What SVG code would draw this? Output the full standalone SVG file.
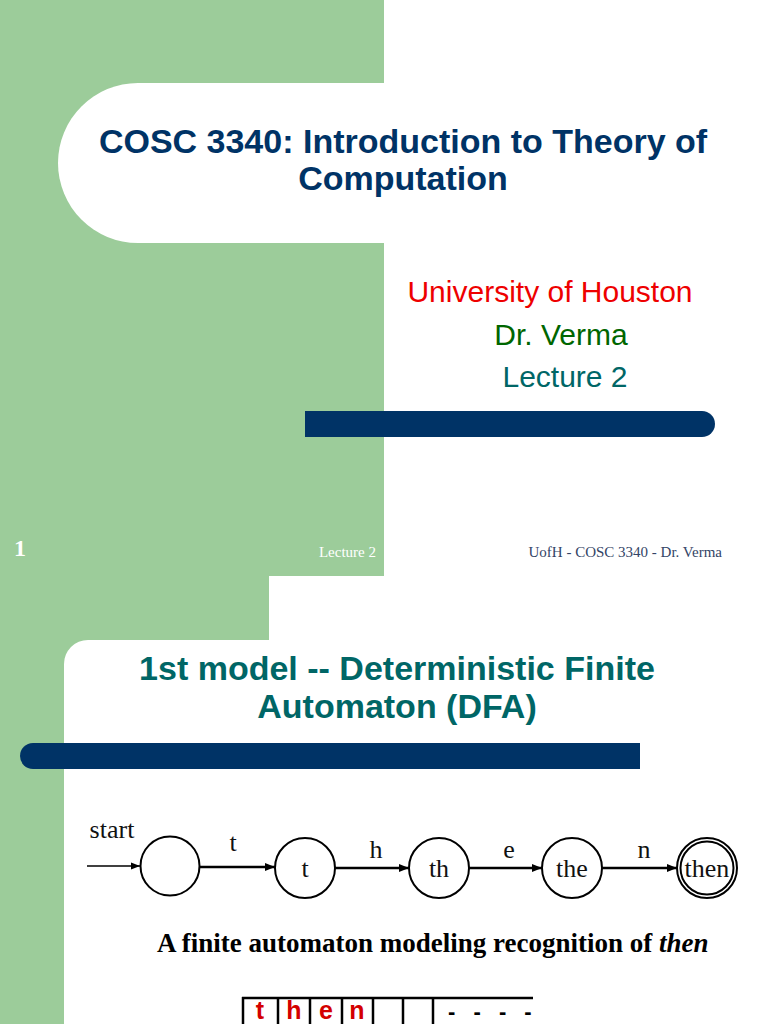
<svg xmlns="http://www.w3.org/2000/svg" width="768" height="1024" viewBox="0 0 768 1024">
<defs>
<style>
.green{fill:#9ccc9a}
.bar{fill:#003366}
.title{font-family:"Liberation Sans",Arial,sans-serif;font-weight:bold;font-size:34px;text-anchor:middle}
.sub{font-family:"Liberation Sans",Arial,sans-serif;font-size:30px;text-anchor:middle}
.foot{font-family:"Liberation Serif","Times New Roman",serif;font-size:15px}
.st{fill:#fff;stroke:#000;stroke-width:2}
.lbl{font-family:"Liberation Serif","Times New Roman",serif;font-size:26px;text-anchor:middle;fill:#111}
.edge{stroke:#000;stroke-width:2.5;fill:none}
.cell{stroke:#000;stroke-width:2.5;fill:none}
.tape{font-family:"Liberation Sans",Arial,sans-serif;font-weight:bold;font-size:25px;fill:#d40000;text-anchor:middle}
</style>
<marker id="ah" viewBox="0 0 10 10" refX="10" refY="5" markerWidth="4" markerHeight="4" orient="auto" markerUnits="strokeWidth">
<path d="M0,1 L10,5 L0,9 Z" fill="#000"/>
</marker>
<marker id="ah2" viewBox="0 0 10 10" refX="10" refY="5" markerWidth="6" markerHeight="6" orient="auto" markerUnits="strokeWidth">
<path d="M0,1 L10,5 L0,9 Z" fill="#000"/>
</marker>
</defs>
<rect width="768" height="1024" fill="#fff"/>
<g id="slide1">
<rect class="green" x="0" y="0" width="384" height="576"/>
<path fill="#fff" d="M384,83 H138 A80,80 0 0 0 138,243 H384 Z"/>
<text class="title" x="403" y="153" fill="#003366">COSC 3340: Introduction to Theory of</text>
<text class="title" x="403" y="190" fill="#003366">Computation</text>
<text class="sub" x="550" y="302" fill="#ee0000">University of Houston</text>
<text class="sub" x="561" y="345" fill="#006600">Dr. Verma</text>
<text class="sub" x="565" y="387" fill="#006666">Lecture 2</text>
<path class="bar" d="M305,411 H702 A13,13 0 0 1 702,437 H305 Z"/>
<text x="14" y="556" font-family="Liberation Serif,serif" font-weight="bold" font-size="24" fill="#fff">1</text>
<text class="foot" x="376" y="557" fill="#fff" text-anchor="end" font-size="17">Lecture 2</text>
<text class="foot" x="722" y="557" fill="#334466" text-anchor="end">UofH - COSC 3340 - Dr. Verma</text>
</g>
<g id="slide2">
<rect class="green" x="0" y="576" width="269" height="448"/>
<path fill="#fff" d="M64,1024 V664 A24,24 0 0 1 88,640 H768 V1024 Z"/>
<text class="title" x="397" y="680" fill="#006666">1st model -- Deterministic Finite</text>
<text class="title" x="397" y="718" fill="#006666">Automaton (DFA)</text>
<path class="bar" d="M640,743 H33 A13,13 0 0 0 33,769 H640 Z"/>
</g>
<g id="connectors">
<line x1="87" y1="866" x2="140" y2="866" stroke="#000" stroke-width="1.5" marker-end="url(#ah2)"/>
<line class="edge" x1="200" y1="867" x2="275" y2="867" marker-end="url(#ah)"/>
<line class="edge" x1="335" y1="868" x2="409" y2="868" marker-end="url(#ah)"/>
<line class="edge" x1="469" y1="868" x2="542" y2="868" marker-end="url(#ah)"/>
<line class="edge" x1="602" y1="868" x2="677" y2="868" marker-end="url(#ah)"/>
<text class="lbl" x="112" y="838" font-size="24">start</text>
<text class="lbl" x="233" y="851" font-size="24">t</text>
<text class="lbl" x="376" y="858" font-size="24">h</text>
<text class="lbl" x="509" y="858" font-size="24">e</text>
<text class="lbl" x="644" y="858" font-size="24">n</text>
</g>
<g id="q0"><circle class="st" cx="170" cy="866" r="29.5"/></g>
<g id="q1"><circle class="st" cx="305" cy="868" r="30"/><text class="lbl" x="305" y="877">t</text></g>
<g id="q2"><circle class="st" cx="439" cy="868" r="30"/><text class="lbl" x="439" y="877">th</text></g>
<g id="q3"><circle class="st" cx="572" cy="868" r="30"/><text class="lbl" x="572" y="877">the</text></g>
<g id="q4"><circle class="st" cx="707" cy="868" r="30"/><circle class="st" cx="707" cy="868" r="26.5" fill="none"/><text class="lbl" x="707" y="877">then</text></g>
<g id="caption">
<text x="157" y="952" font-family="Liberation Serif,'Times New Roman',serif" font-weight="bold" font-size="27" fill="#000">A finite automaton modeling recognition of <tspan font-style="italic">then</tspan></text>
</g>
<g id="tape">
<line class="cell" x1="242" y1="998" x2="533" y2="998"/>
<line class="cell" x1="243" y1="997" x2="243" y2="1024"/>
<line class="cell" x1="278" y1="998" x2="278" y2="1024"/>
<line class="cell" x1="310" y1="998" x2="310" y2="1024"/>
<line class="cell" x1="342" y1="998" x2="342" y2="1024"/>
<line class="cell" x1="373" y1="998" x2="373" y2="1024"/>
<line class="cell" x1="403" y1="998" x2="403" y2="1024"/>
<line class="cell" x1="433" y1="998" x2="433" y2="1024"/>
<text class="tape" x="260" y="1019">t</text>
<text class="tape" x="294" y="1019">h</text>
<text class="tape" x="326" y="1019">e</text>
<text class="tape" x="357" y="1019">n</text>
<text x="448" y="1019" font-family="Liberation Sans,Arial,sans-serif" font-weight="bold" font-size="22" letter-spacing="6" fill="#000">- - - -</text>
</g>
</svg>
